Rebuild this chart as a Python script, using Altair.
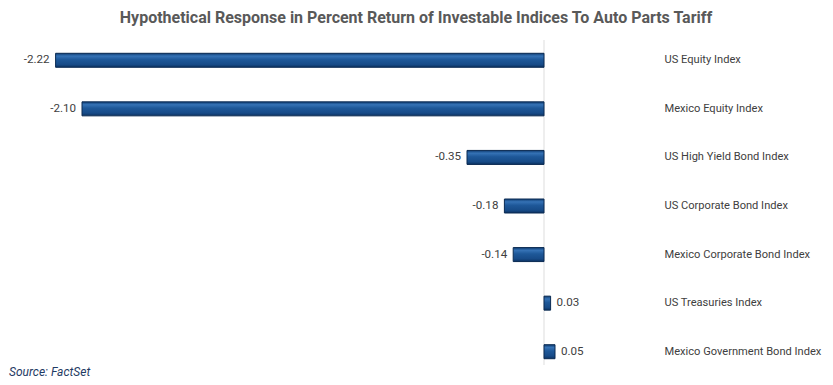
import altair as alt
import pandas as pd

categories = ["US Equity Index", "Mexico Equity Index", "US High Yield Bond Index",
              "US Corporate Bond Index", "Mexico Corporate Bond Index",
              "US Treasuries Index", "Mexico Government Bond Index"]
values = [-2.22, -2.10, -0.35, -0.18, -0.14, 0.03, 0.05]

df = pd.DataFrame({"cat": categories, "val": values})
df["lab"] = [f"{v:.2f}" for v in values]
df["zero"] = 0.0

FONT = "Roboto"
xs = alt.Scale(domain=[-2.4, 0.5], nice=False, zero=False)
ys = alt.Scale(domain=categories, paddingInner=0.0, paddingOuter=0.0)

grad = {
    "gradient": "linear", "x1": 0, "y1": 0, "x2": 0, "y2": 1,
    "stops": [{"offset": 0, "color": "#0f3d73"},
              {"offset": 0.2, "color": "#3572b5"},
              {"offset": 0.45, "color": "#1e5899"},
              {"offset": 0.8, "color": "#174b88"},
              {"offset": 1, "color": "#0c3261"}]}

base = alt.Chart(df)

zero = base.transform_filter("datum.cat == 'US Equity Index'").mark_rule(
    color="#e8e8e8", strokeWidth=1.5).encode(
    x=alt.X("zero:Q", scale=xs, axis=None), y=alt.value(4), y2=alt.value(329))

bars = base.mark_bar(size=14, fill=grad, stroke="#0a2a52", strokeWidth=1).encode(
    x=alt.X("val:Q", scale=xs, axis=None),
    x2="zero:Q",
    y=alt.Y("cat:N", scale=ys, sort=categories,
            axis=alt.Axis(orient="right", title=None, domain=False, ticks=False,
                          labelAlign="left", labelPadding=10, labelFont=FONT,
                          labelFontSize=11.1, labelColor="#404040", labelLimit=300)))

neg = base.transform_filter("datum.val < 0").mark_text(
    align="right", baseline="middle", dx=-6, font=FONT, fontSize=11.6, color="#404040").encode(
    x=alt.X("val:Q", scale=xs), y=alt.Y("cat:N", scale=ys, sort=categories), text="lab:N")

pos = base.transform_filter("datum.val >= 0").mark_text(
    align="left", baseline="middle", dx=6, font=FONT, fontSize=11.6, color="#404040").encode(
    x=alt.X("val:Q", scale=xs), y=alt.Y("cat:N", scale=ys, sort=categories), text="lab:N")

source = base.transform_filter("datum.cat == 'US Equity Index'").mark_text(
    align="left", baseline="middle", font=FONT, fontSize=12, fontStyle="italic",
    color="#1f3b64", text="Source: FactSet").encode(x=alt.value(-7), y=alt.value(336))

chart = alt.layer(zero, bars, neg, pos, source).properties(
    width=638, height=340,
    autosize=alt.AutoSizeParams(type="none"),
    padding={"left": 8, "top": 28, "right": 171, "bottom": 8},
    title=alt.Title("Hypothetical Response in Percent Return of Investable Indices To Auto Parts Tariff",
                    font=FONT, fontSize=16, fontWeight="bold", color="#595959",
                    anchor="middle", dx=81, offset=10),
).configure_view(stroke=None)

chart.save("out.html", embed_options={"renderer": "svg", "actions": False})
